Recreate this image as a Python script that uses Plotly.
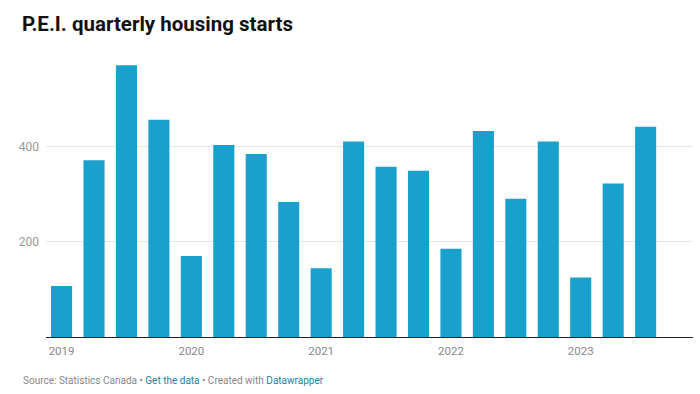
import plotly.graph_objects as go

quarters = ["2019 Q1", "2019 Q2", "2019 Q3", "2019 Q4",
            "2020 Q1", "2020 Q2", "2020 Q3", "2020 Q4",
            "2021 Q1", "2021 Q2", "2021 Q3", "2021 Q4",
            "2022 Q1", "2022 Q2", "2022 Q3", "2022 Q4",
            "2023 Q1", "2023 Q2", "2023 Q3"]
starts = [107, 371, 570, 456,
          170, 403, 384, 283,
          144, 410, 357, 349,
          185, 432, 290, 410,
          125, 322, 441]
year_ticks = ["2019 Q1", "2020 Q1", "2021 Q1", "2022 Q1", "2023 Q1"]
year_labels = ["2019", "2020", "2021", "2022", "2023"]
y_ticks = [200, 400]

fig = go.Figure(go.Bar(
    x=quarters, y=starts,
    marker=dict(color="#18a1cd", line=dict(width=0)),
    hoverinfo="x+y",
))

fig.update_layout(
    width=700, height=394,
    margin=dict(l=46, r=7, t=51, b=57, autoexpand=False),
    paper_bgcolor="white", plot_bgcolor="white",
    bargap=0.35,
    showlegend=False,
    font=dict(family="Roboto", color="#888888", size=12),
    title=dict(
        text="<b>P.E.I. quarterly housing starts</b>",
        x=22 / 700, xref="container", xanchor="left",
        y=1, yref="container", yanchor="top",
        pad=dict(t=17, l=0),
        font=dict(family="Roboto", size=20.5, color="#111111"),
    ),
    xaxis=dict(
        type="category",
        automargin=False,
        range=[-0.48, 19.46],
        tickmode="array", tickvals=year_ticks, ticktext=year_labels,
        showgrid=False, zeroline=False,
        showline=True, linecolor="#222222", linewidth=1,
        ticks="outside", ticklen=3, tickcolor="rgba(0,0,0,0)",
        tickfont=dict(family="Roboto", size=11.5, color="#888888"),
        fixedrange=True,
    ),
    yaxis=dict(
        automargin=False,
        range=[0, 600],
        tickmode="array", tickvals=y_ticks,
        showgrid=True, gridcolor="#e6e6e6", gridwidth=1,
        zeroline=False, showline=False,
        ticks="", ticklabelstandoff=6,
        tickfont=dict(family="Roboto", size=12, color="#999999"),
        fixedrange=True,
    ),
)

fig.add_annotation(
    xref="paper", yref="paper", x=-0.0385, y=-0.1245,
    xanchor="left", yanchor="top", showarrow=False,
    align="left",
    text=("Source: Statistics Canada \u2022 "
          "<span style='color:#1d81a2'>Get the data</span>"
          " \u2022 Created with "
          "<span style='color:#1d81a2'>Datawrapper</span>"),
    font=dict(family="Roboto", size=10, color="#888888"),
)

fig.write_html(
    "out.html",
    config={"displayModeBar": False},
    post_script="document.body.style.margin='0';document.body.style.overflow='hidden';",
)
